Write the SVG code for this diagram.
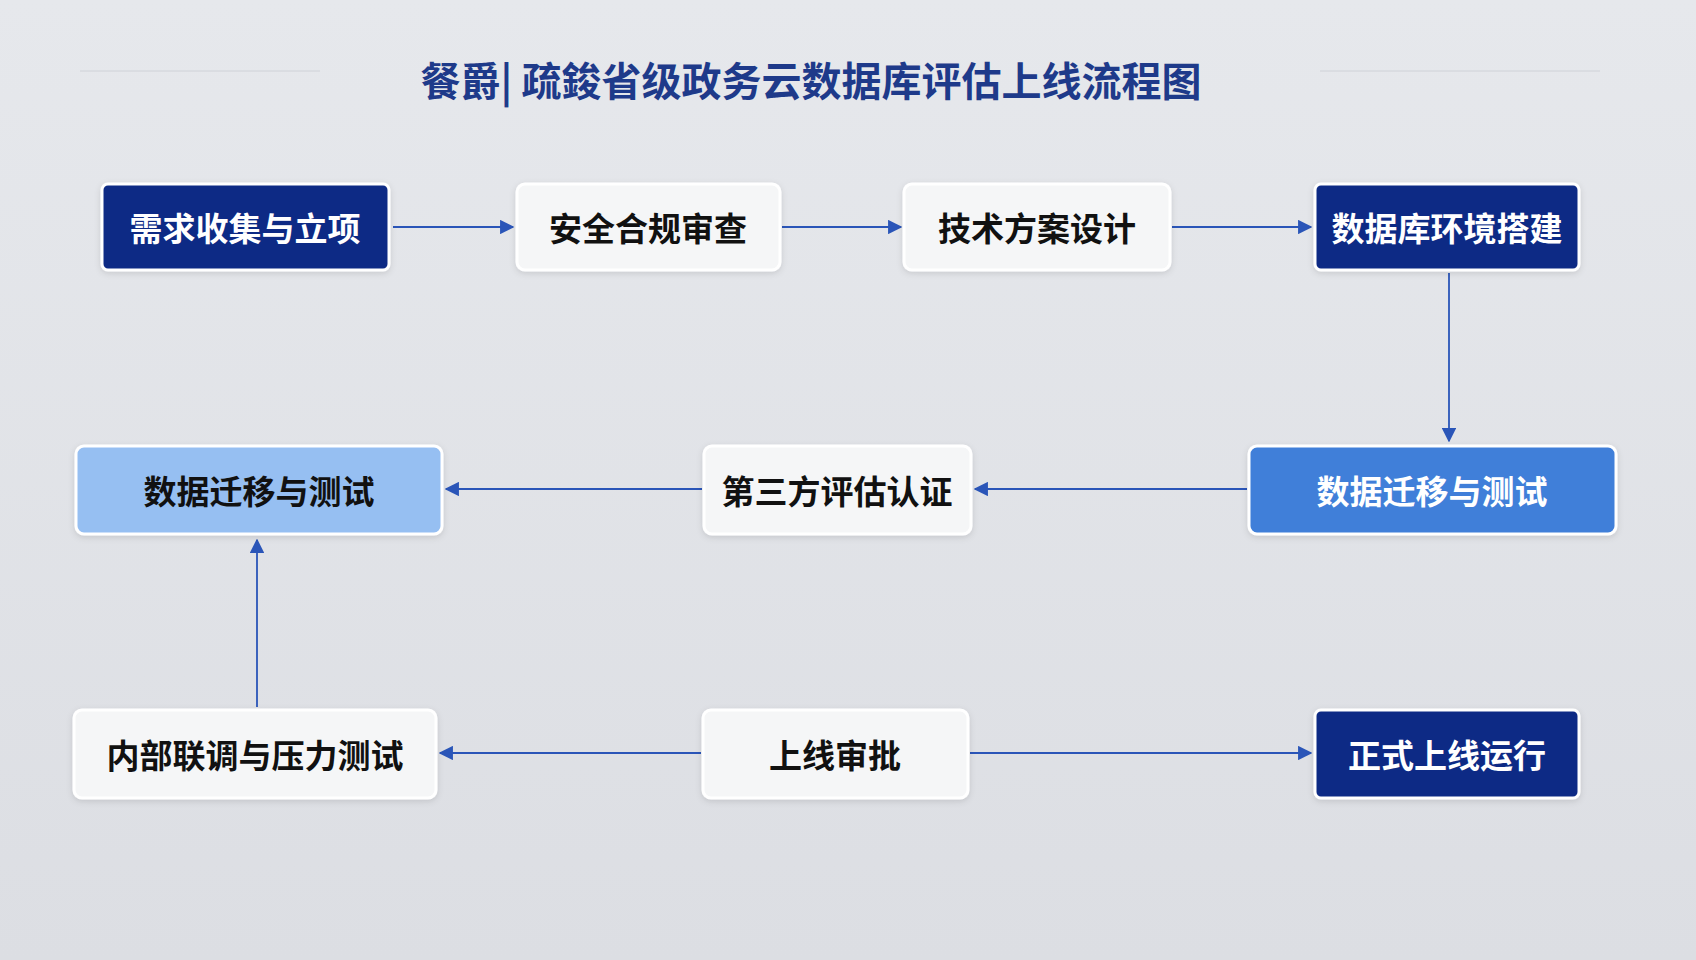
<svg xmlns="http://www.w3.org/2000/svg" width="1696" height="960" viewBox="0 0 1696 960">
<defs>
<linearGradient id="bg" x1="0" y1="0" x2="0" y2="1"><stop offset="0" stop-color="#e6e8ec"/><stop offset="1" stop-color="#dcdee3"/></linearGradient>
<marker id="ar" viewBox="0 0 10 10" refX="9" refY="5" markerWidth="8" markerHeight="8" orient="auto-start-reverse"><path d="M0,0 L10,5 L0,10 z" fill="#2a55b8"/></marker>
<filter id="sh" x="-10%" y="-20%" width="120%" height="150%"><feDropShadow dx="0" dy="2" stdDeviation="3" flood-color="#000" flood-opacity="0.12"/></filter>
</defs>
<style>
.n rect{stroke:#fff;stroke-width:3;filter:url(#sh)}
.t{font-family:"Noto Sans CJK SC",sans-serif;font-weight:700;font-size:33px;text-anchor:middle;dominant-baseline:central}
.w{fill:#f5f6f7}.d{fill:#0d2a85}.dt{fill:#fff}.bt{fill:#111}
.c line{stroke:#2a55b8;stroke-width:1.8;marker-end:url(#ar)}
</style>
<rect width="1696" height="960" fill="url(#bg)"/>
<line x1="80" y1="71" x2="320" y2="71" stroke="#cfd2d8"/>
<line x1="1320" y1="71" x2="1600" y2="71" stroke="#cfd2d8"/>
<text x="811" y="79" font-family="Noto Sans CJK SC,sans-serif" font-weight="700" font-size="40" fill="#1e3a8a" text-anchor="middle" dominant-baseline="central">餐爵| 疏鋑省级政务云数据库评估上线流程图</text>
<g class="c">
<line x1="393" y1="227" x2="513" y2="227"/>
<line x1="782" y1="227" x2="901" y2="227"/>
<line x1="1172" y1="227" x2="1311" y2="227"/>
<line x1="1449" y1="273" x2="1449" y2="441"/>
<line x1="1247" y1="489" x2="975" y2="489"/>
<line x1="702" y1="489" x2="446" y2="489"/>
<line x1="257" y1="707" x2="257" y2="540"/>
<line x1="701" y1="753" x2="440" y2="753"/>
<line x1="970" y1="753" x2="1311" y2="753"/>
</g>
<g id="n1" class="n"><rect x="102" y="184" width="287" height="86" rx="6" class="d"/><text x="245" y="227" class="t dt">需求收集与立项</text></g>
<g id="n2" class="n"><rect x="517" y="184" width="263" height="86" rx="8" class="w"/><text x="648" y="227" class="t bt">安全合规审查</text></g>
<g id="n3" class="n"><rect x="904" y="184" width="266" height="86" rx="8" class="w"/><text x="1037" y="227" class="t bt">技术方案设计</text></g>
<g id="n4" class="n"><rect x="1315" y="184" width="264" height="86" rx="6" class="d"/><text x="1447" y="227" class="t dt">数据库环境搭建</text></g>
<g id="n5" class="n"><rect x="1249" y="446" width="367" height="88" rx="8" fill="#3f7fd9"/><text x="1432" y="490" class="t dt">数据迁移与测试</text></g>
<g id="n6" class="n"><rect x="704" y="446" width="267" height="88" rx="8" class="w"/><text x="837" y="490" class="t bt">第三方评估认证</text></g>
<g id="n7" class="n"><rect x="76" y="446" width="366" height="88" rx="8" fill="#96bff2"/><text x="259" y="490" class="t bt">数据迁移与测试</text></g>
<g id="n8" class="n"><rect x="74" y="710" width="362" height="88" rx="8" class="w"/><text x="255" y="754" class="t bt">内部联调与压力测试</text></g>
<g id="n9" class="n"><rect x="703" y="710" width="265" height="88" rx="8" class="w"/><text x="835" y="754" class="t bt">上线审批</text></g>
<g id="n10" class="n"><rect x="1315" y="710" width="264" height="88" rx="6" class="d"/><text x="1447" y="754" class="t dt">正式上线运行</text></g>
</svg>
